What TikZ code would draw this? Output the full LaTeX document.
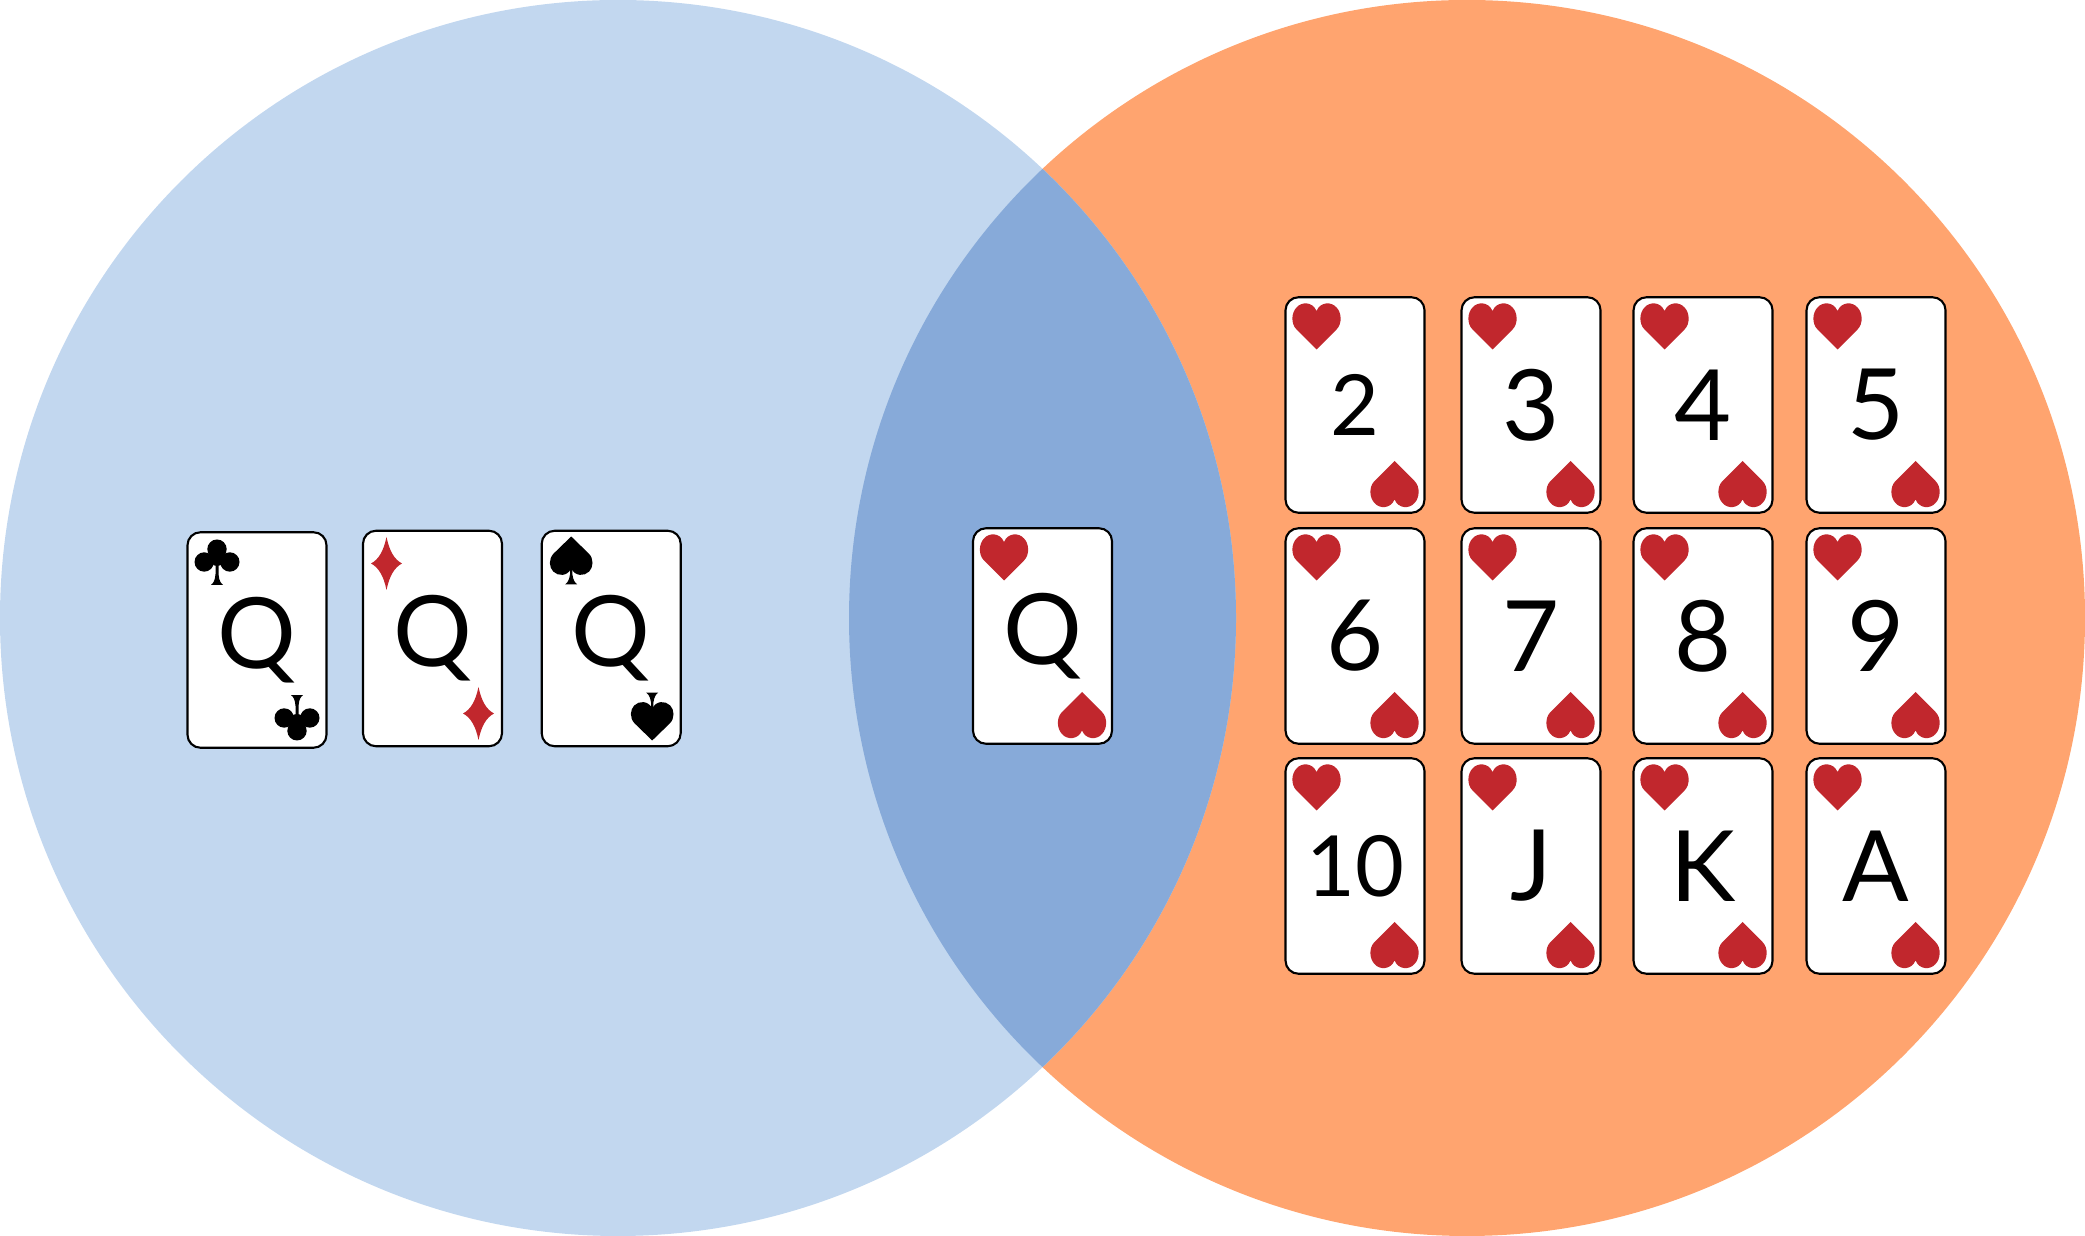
\documentclass[tikz,border=0pt]{standalone}
\usepackage{fontspec}
\setmainfont{Lato}
\usepackage{tikz}
\usepackage{xcolor}

\definecolor{setblue}{HTML}{C2D7EF}
\definecolor{setorange}{HTML}{FFA46F}
\definecolor{setboth}{HTML}{87AAD9}
\definecolor{pipred}{HTML}{C1272D}

\tikzset{
  card/.style={draw=black, line width=0.6pt, fill=white, rounded corners=0.13cm,
    minimum width=1.39cm, minimum height=2.155cm, inner sep=0pt,
    font=\fontsize{28}{28}\selectfont},
  heartpip/.pic={
    \fill [pipred] (0,-0.23) -- (-0.2,-0.03) .. controls (-0.26,0.03) and (-0.25,0.14) .. (-0.2,0.19)
      .. controls (-0.15,0.25) and (-0.04,0.25) .. (0,0.155)
      .. controls (0.04,0.25) and (0.15,0.25) .. (0.2,0.19)
      .. controls (0.25,0.14) and (0.26,0.03) .. (0.2,-0.03) -- cycle;
  },
  diamondpip/.pic={
    \fill [pipred] (0,0.265) .. controls (0.03,0.12) and (0.08,0.04) .. (0.155,0)
      .. controls (0.08,-0.04) and (0.03,-0.12) .. (0,-0.265)
      .. controls (-0.03,-0.12) and (-0.08,-0.04) .. (-0.155,0)
      .. controls (-0.08,0.04) and (-0.03,0.12) .. (0,0.265) -- cycle;
  },
  clubpip/.pic={
    \fill [black] (0,0.128) circle (0.097);
    \fill [black] (-0.128,0) circle (0.097);
    \fill [black] (0.128,0) circle (0.097);
    \fill [black] (0,0.03) circle (0.07);
    \fill [black] (-0.015,0) -- (-0.015,-0.12) .. controls (-0.02,-0.19) and (-0.04,-0.215) .. (-0.06,-0.228)
      -- (0.06,-0.228) .. controls (0.04,-0.215) and (0.02,-0.19) .. (0.015,-0.12) -- (0.015,0) -- cycle;
  },
  spadepip/.pic={
    \fill [black] (0,0.24) -- (-0.175,0.07) .. controls (-0.23,0.015) and (-0.22,-0.07) .. (-0.18,-0.11)
      .. controls (-0.13,-0.16) and (-0.04,-0.16) .. (0,-0.08)
      .. controls (0.04,-0.16) and (0.13,-0.16) .. (0.18,-0.11)
      .. controls (0.22,-0.07) and (0.23,0.015) .. (0.175,0.07) -- cycle;
    \fill [black] (-0.012,-0.08) -- (-0.012,-0.14) .. controls (-0.02,-0.2) and (-0.04,-0.225) .. (-0.06,-0.238)
      -- (0.06,-0.238) .. controls (0.04,-0.225) and (0.02,-0.2) .. (0.012,-0.14) -- (0.012,-0.08) -- cycle;
  }
}

\begin{document}
\begin{tikzpicture}
\useasboundingbox (0,0) rectangle (20.85,12.36);
% the two sets
\fill [setorange] (14.67,6.18) circle (6.18);
\fill [setblue] (6.18,6.18) circle (6.18);
\begin{scope}
\clip (6.18,6.18) circle (6.18);
\fill [setboth] (14.67,6.18) circle (6.18);
\end{scope}
% queens
\node [card] (qc) at (2.57,5.96) {Q};
\node [card] (qd) at (4.325,5.975) {Q};
\node [card] (qs) at (6.112,5.975) {Q};
\node [card] (qh) at (10.425,6.0) {Q};
\pic at ([shift={(-0.40,0.78)}]qc.center) {clubpip};
\pic [rotate=180] at ([shift={(0.40,-0.78)}]qc.center) {clubpip};
\pic at ([shift={(-0.46,0.75)}]qd.center) {diamondpip};
\pic [rotate=180] at ([shift={(0.46,-0.75)}]qd.center) {diamondpip};
\pic at ([shift={(-0.40,0.78)}]qs.center) {spadepip};
\pic [rotate=180] at ([shift={(0.41,-0.78)}]qs.center) {spadepip};
\pic at ([shift={(-0.385,0.785)}]qh.center) {heartpip};
\pic [rotate=180] at ([shift={(0.395,-0.79)}]qh.center) {heartpip};
% hearts
\foreach \r/\x/\y/\f in {2/13.55/8.31/24, 3/15.31/8.31/28, 4/17.03/8.31/28, 5/18.76/8.31/28,
	6/13.55/6.0/28, 7/15.31/6.0/28, 8/17.03/6.0/28, 9/18.76/6.0/28,
	10/13.55/3.7/24, J/15.31/3.7/28, K/17.03/3.7/28, A/18.76/3.7/28}
	{
	\node [card, font=\fontsize{\f}{\f}\selectfont] (h\r) at (\x,\y) {\r};
	\pic at ([shift={(-0.385,0.785)}]h\r.center) {heartpip};
	\pic [rotate=180] at ([shift={(0.395,-0.79)}]h\r.center) {heartpip};
	}
\end{tikzpicture}
\end{document}
